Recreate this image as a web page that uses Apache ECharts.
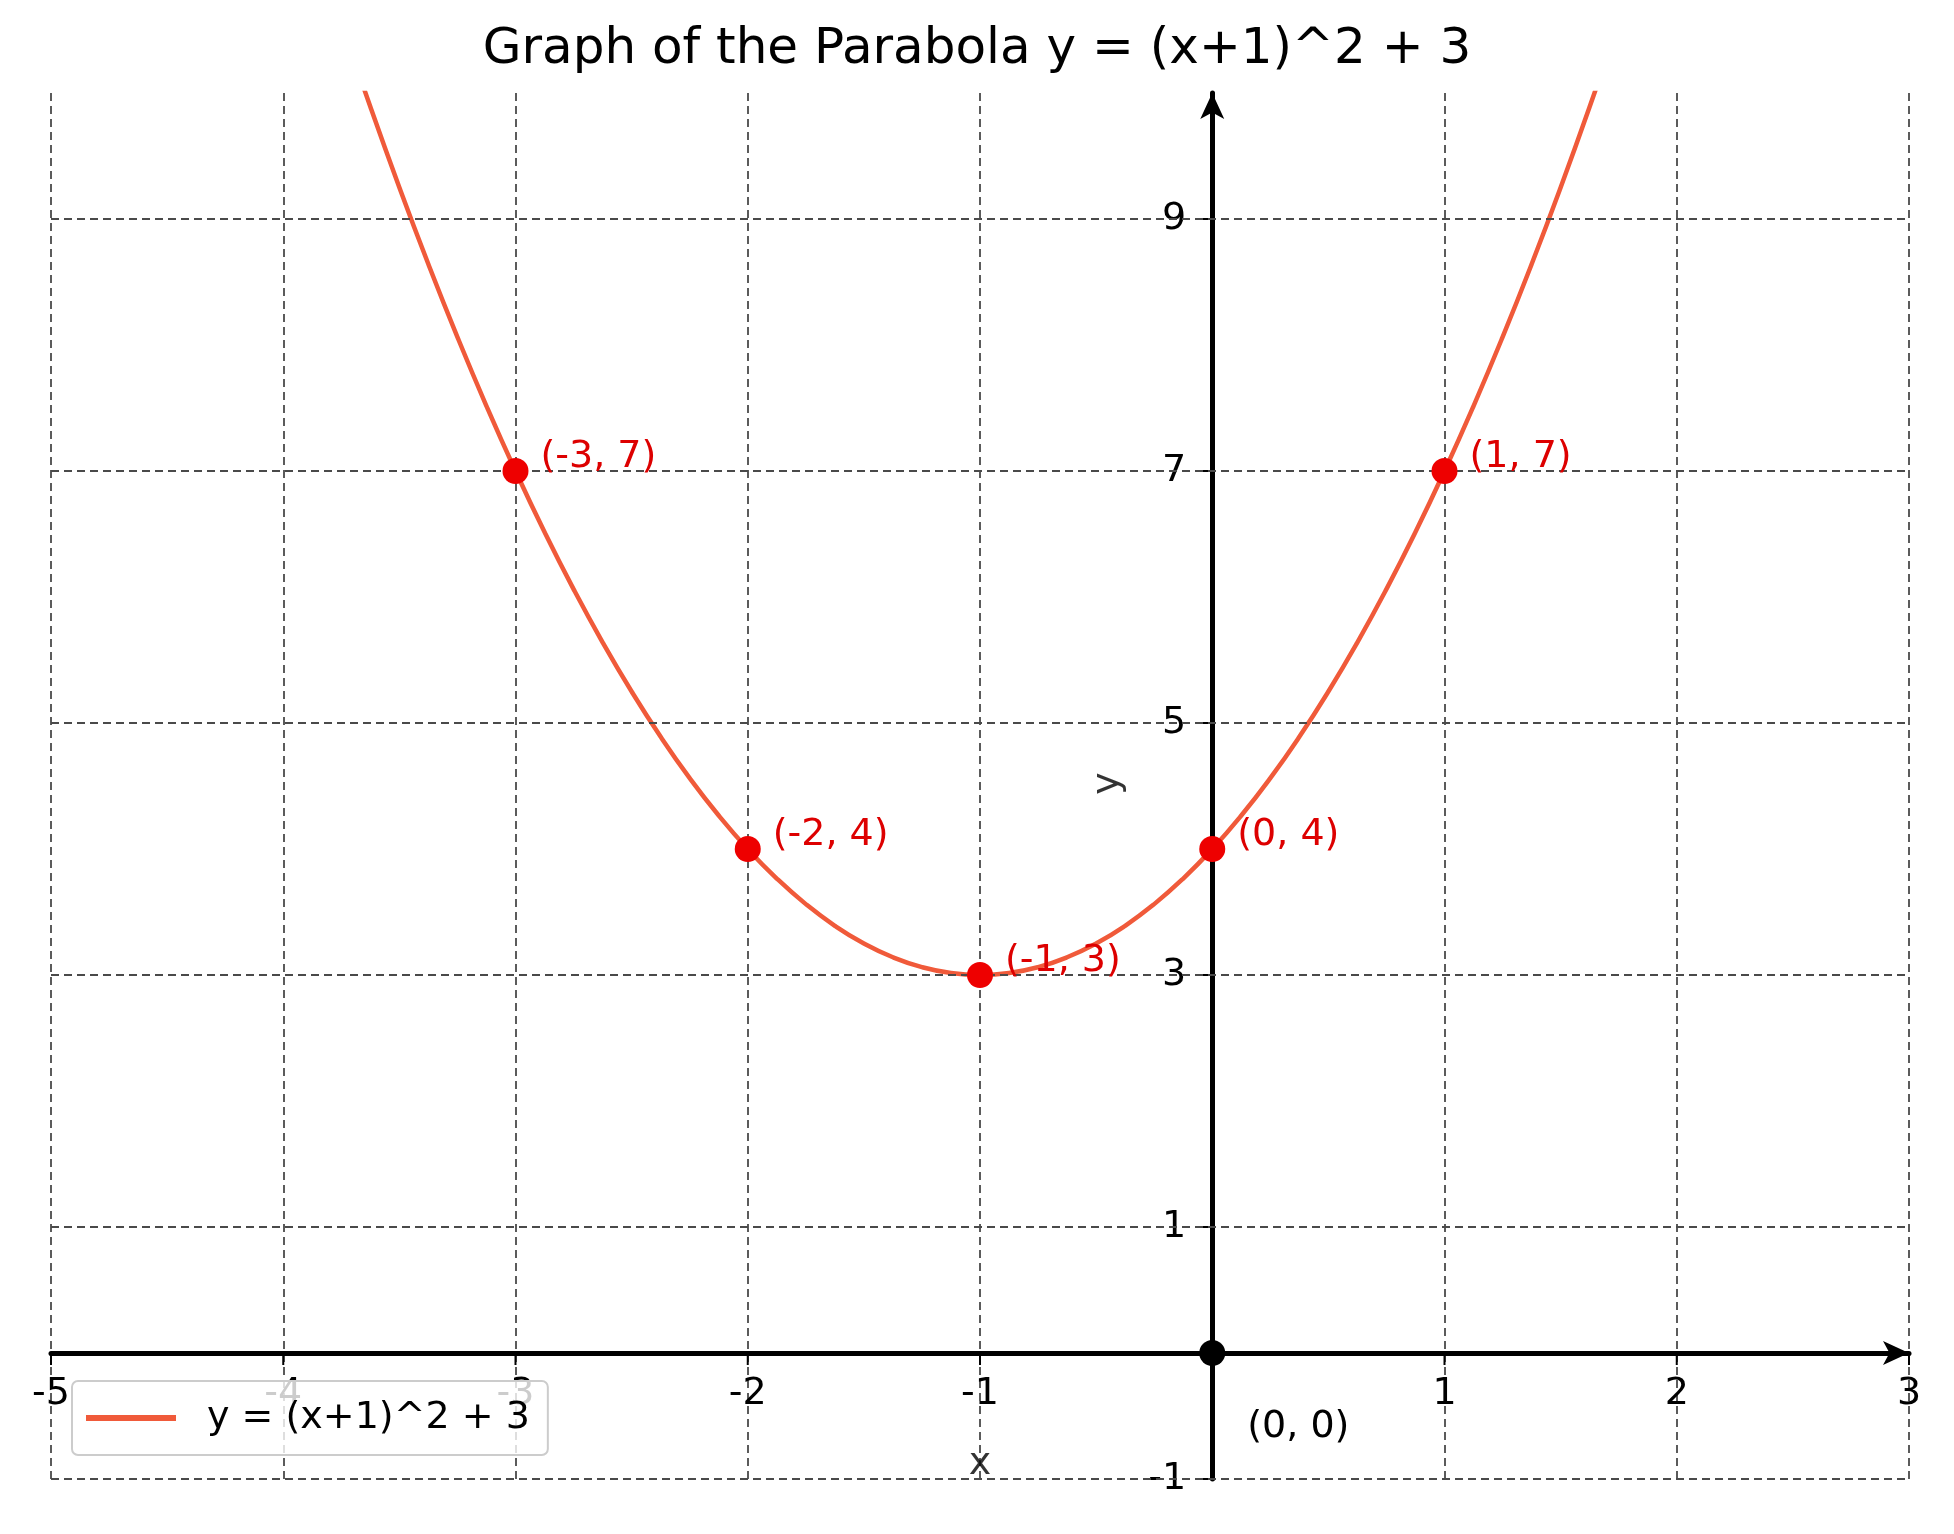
<!DOCTYPE html>
<html><head><meta charset="utf-8">
<script src="https://cdn.jsdelivr.net/npm/echarts@6/dist/echarts.min.js"></script>
<style>html,body{margin:0;background:#fff}#c{width:1954px;height:1534px}</style>
</head><body><div id="c"></div>
<script>
const curveX = [-3.75,-3.625,-3.5,-3.375,-3.25,-3.125,-3,-2.875,-2.75,-2.625,-2.5,-2.375,-2.25,-2.125,-2,-1.875,-1.75,-1.625,-1.5,-1.375,-1.25,-1.125,-1,
  -0.875,-0.75,-0.625,-0.5,-0.375,-0.25,-0.125,0,0.125,0.25,0.375,0.5,0.625,0.75,0.875,1,1.125,1.25,1.375,1.5,1.625,1.75];
const curveY = [10.5625,9.890625,9.25,8.640625,8.0625,7.515625,7,6.515625,6.0625,5.640625,5.25,4.890625,4.5625,4.265625,4,3.765625,3.5625,3.390625,3.25,3.140625,3.0625,3.015625,3,
  3.015625,3.0625,3.140625,3.25,3.390625,3.5625,3.765625,4,4.265625,4.5625,4.890625,5.25,5.640625,6.0625,6.515625,7,7.515625,8.0625,8.640625,9.25,9.890625,10.5625];
const pointsX = [-3,-2,-1,0,1];
const pointsY = [7,4,3,4,7];
const hLines = [-1,1,3,5,7,9];
const xTickLabels = [-5,-4,-3,-2,-1,1,2,3];
const yTickLabels = [-1,1,3,5,7,9];
const F = 'DejaVu Sans';
const FS = 38;
const chart = echarts.init(document.getElementById('c'));
chart.setOption({
  animation:false,
  title:{text:'Graph of the Parabola y = (x+1)^2 + 3',left:'center',top:20,textStyle:{fontFamily:F,fontSize:50,fontWeight:'normal',color:'#000'}},
  grid:{left:51,right:45,top:93,bottom:55},
  legend:{left:72,bottom:79,data:[{name:'y = (x+1)^2 + 3',icon:'rect'}],itemWidth:90,itemHeight:6,itemGap:10,padding:[18,18,18,14],
    borderColor:'#ccc',borderWidth:2,borderRadius:6,backgroundColor:'rgba(255,255,255,0.8)',
    textStyle:{fontFamily:F,fontSize:FS,color:'#000',padding:[0,0,0,26]}},
  xAxis:{type:'value',min:-5,max:3,interval:1,
    axisLine:{onZero:true,lineStyle:{color:'#000',width:5},symbol:['none','arrow'],symbolSize:[18,26]},
    axisTick:{show:false},axisLabel:{show:false},
    splitLine:{show:true,lineStyle:{type:[8,5],color:'#4a4a4a',width:1.8}}},
  yAxis:{type:'value',min:-1,max:10,interval:1,
    axisLine:{onZero:true,lineStyle:{color:'#000',width:5},symbol:['none','arrow'],symbolSize:[18,26]},
    axisTick:{show:false},axisLabel:{show:false},splitLine:{show:false}},
  series:[
    {name:'y = (x+1)^2 + 3',type:'line',smooth:true,showSymbol:false,clip:true,
     data:curveX.map((x,i)=>[x,curveY[i]]),lineStyle:{color:'#f05a3a',width:4.5},itemStyle:{color:'#f05a3a'},
     markLine:{silent:true,symbol:'none',label:{show:false},lineStyle:{type:[8,5],color:'#4a4a4a',width:1.8},
       data:hLines.map(v=>({yAxis:v}))}},
    {type:'scatter',symbol:'rect',symbolSize:[2,12],symbolOffset:[0,6],silent:true,itemStyle:{color:'#000',opacity:1},
     data:xTickLabels.map(x=>[x,0]),
     label:{show:true,position:'bottom',distance:10,fontFamily:F,fontSize:FS,color:'#000',formatter:p=>String(p.value[0])}},
    {type:'scatter',symbol:'rect',symbolSize:[12,2],symbolOffset:[-6,0],silent:true,itemStyle:{color:'#000',opacity:1},
     data:yTickLabels.map(y=>[0,y]),
     label:{show:true,position:'left',distance:14,fontFamily:F,fontSize:FS,color:'#000',formatter:p=>String(p.value[1])}},
    {type:'scatter',data:pointsX.map((x,i)=>[x,pointsY[i]]),symbolSize:26,itemStyle:{color:'#ee0000',opacity:1},z:5,
     label:{show:true,position:'right',distance:12,offset:[0,-14],fontFamily:F,fontSize:FS,color:'#dd0000',
       formatter:p=>'('+p.value[0]+', '+p.value[1]+')'}},
    {type:'scatter',data:[[0,0]],symbolSize:26,itemStyle:{color:'#000',opacity:1},z:5,
     label:{show:true,position:'right',distance:12,offset:[10,74],fontFamily:F,fontSize:FS,color:'#000',formatter:'(0, 0)'}},
    {type:'scatter',symbolSize:0,silent:true,data:[[-1,-0.88]],
     label:{show:true,position:'inside',fontFamily:F,fontSize:FS,color:'#000',formatter:'x'}},
    {type:'scatter',symbolSize:0,silent:true,data:[[-0.45,4.52]],
     label:{show:true,position:'inside',rotate:90,fontFamily:F,fontSize:FS,color:'#000',formatter:'y'}}
  ]
});
</script></body></html>
